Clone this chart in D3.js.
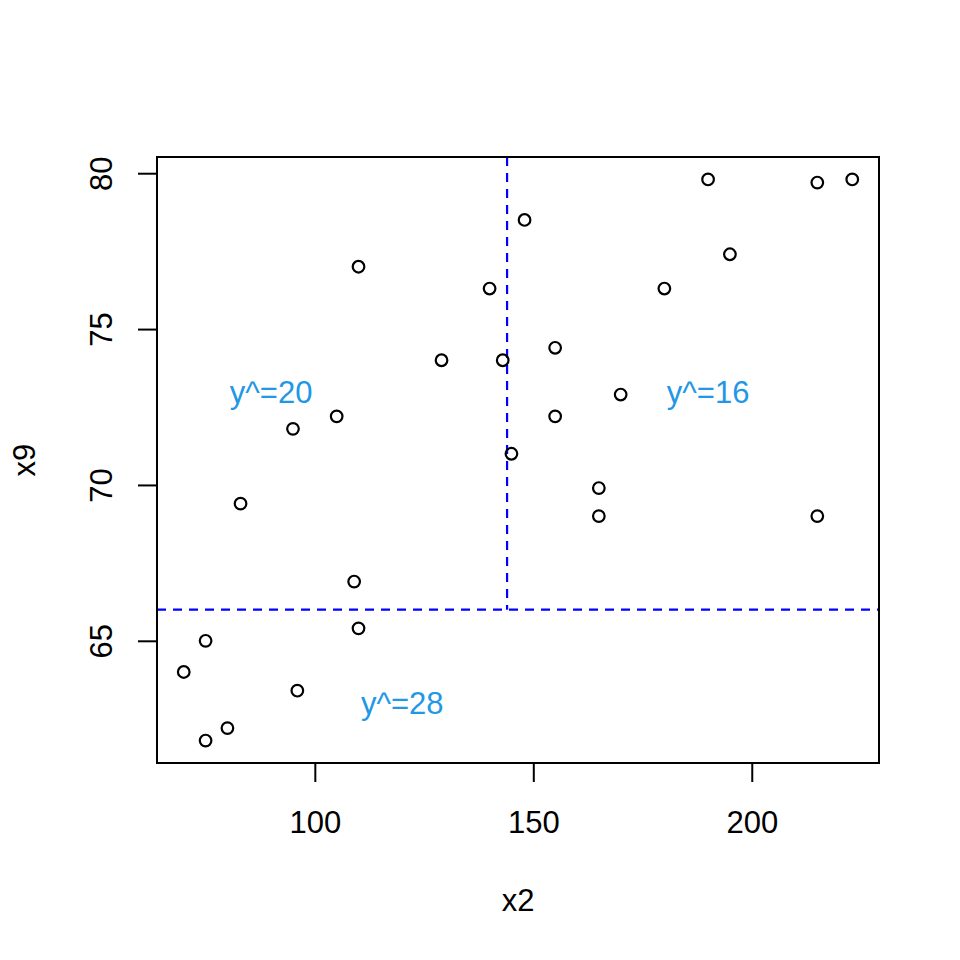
<!DOCTYPE html>
<html>
<head>
<meta charset="utf-8">
<script src="https://cdn.jsdelivr.net/npm/d3@7/dist/d3.min.js"></script>
<style>
  html, body { margin: 0; padding: 0; background: #ffffff; }
  svg { display: block; font-family: "Liberation Sans", Arial, Helvetica, sans-serif; }
</style>
</head>
<body>
<svg id="chart" width="960" height="960"></svg>
<script>
// ---- data ----
const x2 = [70, 75, 75, 80, 83, 95, 96, 105, 109, 110, 110, 129, 140, 143, 145, 148,
            155, 155, 165, 165, 170, 180, 190, 195, 215, 215, 223];
const x9 = [64.0, 65.0, 61.8, 62.2, 69.4, 71.8, 63.4, 72.2, 66.9, 77.0, 65.4, 74.0, 76.3, 74.0, 71.0, 78.5,
            74.4, 72.2, 69.9, 69.0, 72.9, 76.3, 79.8, 77.4, 79.7, 69.0, 79.8];
const xTicks = [100, 150, 200];
const yTicks = [65, 70, 75, 80];
const splitX = [144];
const splitY = [66];
const regionLabels = ["y^=20", "y^=16", "y^=28"];
const regionLabelX = [90, 190, 120];
const regionLabelY = [73, 73, 63];
const xLabel = "x2";
const yLabel = "x9";

// ---- layout ----
const W = 960, H = 960;
const L = 157, R = 879, T = 157, B = 763;
const fontSize = 31;

const svg = d3.select("#chart");
svg.append("rect").attr("width", W).attr("height", H).attr("fill", "#ffffff");

function padDomain(arr) {
  const mn = d3.min(arr), mx = d3.max(arr);
  const p = (mx - mn) * 0.04;
  return [mn - p, mx + p];
}
const x = d3.scaleLinear().domain(padDomain(x2)).range([L, R]);
const y = d3.scaleLinear().domain(padDomain(x9)).range([B, T]);

// ---- axes ----
const xAxis = d3.axisBottom(x).tickValues(xTicks).tickSize(19).tickSizeOuter(0).tickPadding(0).tickFormat(d3.format("d"));
const gx = svg.append("g").attr("transform", `translate(0,${B})`).call(xAxis);
gx.select(".domain").remove();
gx.selectAll(".tick line").attr("stroke", "#000").attr("stroke-width", 2);
gx.selectAll(".tick text")
  .attr("y", 70).attr("dy", null)
  .attr("font-size", fontSize).attr("fill", "#000")
  .attr("font-family", '"Liberation Sans", Arial, sans-serif');

const yAxis = d3.axisLeft(y).tickValues(yTicks).tickSize(19).tickSizeOuter(0).tickPadding(0).tickFormat(d3.format("d"));
const gy = svg.append("g").attr("transform", `translate(${L},0)`).call(yAxis);
gy.select(".domain").remove();
gy.selectAll(".tick line").attr("stroke", "#000").attr("stroke-width", 2);
gy.selectAll(".tick text")
  .attr("x", null).attr("dy", null)
  .attr("text-anchor", "middle")
  .attr("transform", "translate(-45,0) rotate(-90)")
  .attr("font-size", fontSize).attr("fill", "#000")
  .attr("font-family", '"Liberation Sans", Arial, sans-serif');

// axis titles
svg.append("text").attr("x", (L + R) / 2).attr("y", 911)
  .attr("text-anchor", "middle").attr("font-size", fontSize).attr("fill", "#000").text(xLabel);
svg.append("text").attr("transform", `translate(35,${(T + B) / 2}) rotate(-90)`)
  .attr("text-anchor", "middle").attr("font-size", fontSize).attr("fill", "#000").text(yLabel);

// ---- split lines ----
svg.append("g").selectAll("line.h").data(splitY).join("line")
  .attr("x1", L).attr("x2", R)
  .attr("y1", d => y(d)).attr("y2", d => y(d))
  .attr("stroke", "#0000FF").attr("stroke-width", 2.2).attr("stroke-dasharray", "9 7");
svg.append("g").selectAll("line.v").data(splitX).join("line")
  .attr("x1", d => x(d)).attr("x2", d => x(d))
  .attr("y1", T).attr("y2", y(splitY[0]))
  .attr("stroke", "#0000FF").attr("stroke-width", 2.2).attr("stroke-dasharray", "9 7");

// ---- points ----
svg.append("g").selectAll("circle").data(x2.map((v, i) => [v, x9[i]])).join("circle")
  .attr("cx", d => x(d[0])).attr("cy", d => y(d[1])).attr("r", 5.8)
  .attr("fill", "none").attr("stroke", "#000").attr("stroke-width", 2.2);

// ---- region labels ----
svg.append("g").selectAll("text").data(regionLabels).join("text")
  .attr("x", (d, i) => x(regionLabelX[i]))
  .attr("y", (d, i) => y(regionLabelY[i]))
  .attr("dy", "0.36em")
  .attr("text-anchor", "middle")
  .attr("font-size", fontSize)
  .attr("fill", "#2297E6")
  .text(d => d);

// ---- box ----
svg.append("rect").attr("x", L).attr("y", T).attr("width", R - L).attr("height", B - T)
  .attr("fill", "none").attr("stroke", "#000").attr("stroke-width", 2);
</script>
</body>
</html>
